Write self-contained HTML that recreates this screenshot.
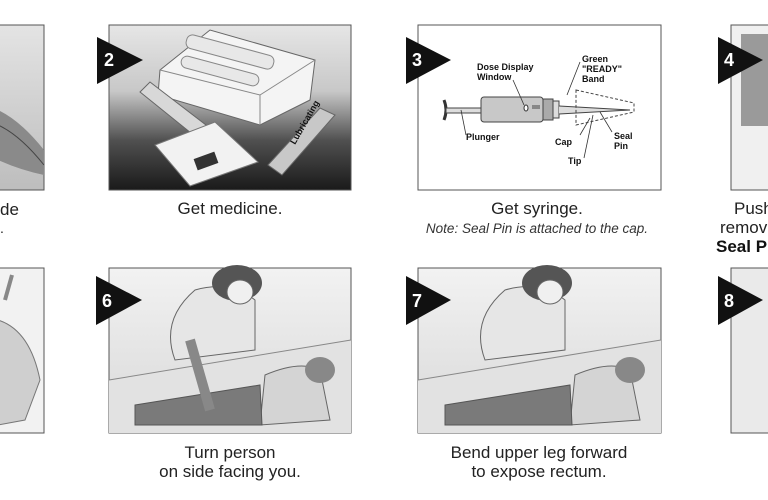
<!DOCTYPE html>
<html><head><meta charset="utf-8"><style>
html,body{margin:0;padding:0;background:#fff;width:768px;height:500px;overflow:hidden}
svg{display:block}
text{font-family:"Liberation Sans",sans-serif}
</style></head><body>
<svg width="768" height="500" viewBox="0 0 768 500" xmlns="http://www.w3.org/2000/svg">
<defs>
<linearGradient id="g2" x1="0" y1="0" x2="0" y2="1">
<stop offset="0" stop-color="#e6e6e6"/><stop offset="0.4" stop-color="#c8c8c8"/><stop offset="0.7" stop-color="#505050"/><stop offset="1" stop-color="#1a1a1a"/></linearGradient>
<linearGradient id="gl" x1="0" y1="0" x2="0" y2="1">
<stop offset="0" stop-color="#e4e4e4"/><stop offset="1" stop-color="#bdbdbd"/></linearGradient>
<linearGradient id="gr" x1="0" y1="0" x2="0" y2="1">
<stop offset="0" stop-color="#f2f2f2"/><stop offset="1" stop-color="#d8d8d8"/></linearGradient>
</defs>

<!-- Row 1 left partial -->
<rect x="-2" y="25" width="46" height="165" fill="url(#gl)" stroke="#555" stroke-width="1"/>
<path d="M-2 110 Q20 120 44 150 L44 175 Q20 170 -2 160Z" fill="#8a8a8a"/>
<path d="M-2 125 Q20 135 44 165" stroke="#444" fill="none"/>
<text x="0" y="215" font-size="17" fill="#222">de</text>
<text x="0" y="233" font-size="14" fill="#222">.</text>

<!-- Panel 2 -->
<rect x="109" y="25" width="242" height="165" fill="url(#g2)" stroke="#555"/>
<path d="M160 70 L210 30 L315 60 L310 100 L260 125 L158 95Z" fill="#f4f4f4" stroke="#666"/>
<path d="M160 70 L260 95 L315 60" stroke="#888" fill="none"/>
<path d="M260 95 L260 125" stroke="#888"/>
<rect x="185" y="45" width="90" height="14" rx="6" fill="#e8e8e8" stroke="#888" transform="rotate(15 230 52)"/>
<rect x="180" y="65" width="80" height="12" rx="6" fill="#e8e8e8" stroke="#888" transform="rotate(15 220 71)"/>
<path d="M140 92 L150 82 L232 145 L222 158Z" fill="#d8d8d8" stroke="#666"/>
<ellipse cx="227" cy="151" rx="8" ry="9" fill="#e0e0e0" stroke="#666"/>
<path d="M155 145 L215 122 L258 162 L190 186Z" fill="#f2f2f2" stroke="#777"/>
<rect x="195" y="155" width="22" height="12" fill="#333" transform="rotate(-20 206 161)"/>
<path d="M268 165 L320 108 L335 115 L282 175Z" fill="#c8c8c8" stroke="#666"/>
<text x="295" y="145" font-size="9" font-weight="bold" fill="#111" transform="rotate(-60 295 145)">Lubricating</text>
<path d="M97 37 L143 60 L97 84Z" fill="#111"/>
<text x="104" y="66" font-size="18" font-weight="bold" fill="#fff">2</text>
<text x="230" y="214" font-size="17" fill="#222" text-anchor="middle">Get medicine.</text>

<!-- Panel 3 -->
<rect x="418" y="25" width="243" height="165" fill="#fff" stroke="#555"/>
<path d="M406 37 L451 60 L406 84Z" fill="#111"/>
<text x="412" y="66" font-size="18" font-weight="bold" fill="#fff">3</text>
<path d="M444 100 Q448 110 444 120" stroke="#333" stroke-width="3" fill="none"/>
<rect x="446" y="108" width="35" height="5" fill="#ddd" stroke="#444"/>
<rect x="481" y="97" width="62" height="25" rx="3" fill="#c8c8c8" stroke="#444"/>
<rect x="543" y="99" width="10" height="21" fill="#aaa" stroke="#444"/>
<rect x="553" y="101" width="6" height="17" fill="#ddd" stroke="#444"/>
<path d="M559 106 L630 110 L559 114" fill="#ddd" stroke="#444"/>
<path d="M576 90 L634 103 L634 112 L576 125Z" fill="none" stroke="#444" stroke-dasharray="3 2"/>
<ellipse cx="526" cy="108" rx="2" ry="3" fill="#fff" stroke="#333"/>
<path d="M532 107 L540 107" stroke="#888" stroke-width="4"/>
<g font-size="9" font-weight="bold" fill="#111">
<text x="477" y="70">Dose Display</text><text x="477" y="80">Window</text>
<text x="582" y="62">Green</text><text x="582" y="72">"READY"</text><text x="582" y="82">Band</text>
<text x="466" y="140">Plunger</text>
<text x="555" y="145">Cap</text>
<text x="614" y="139">Seal</text><text x="614" y="149">Pin</text>
<text x="568" y="164">Tip</text>
</g>
<g stroke="#333" fill="none" stroke-width="0.8">
<path d="M513 80 L524 105"/><path d="M580 62 L567 95"/><path d="M461 110 L466 135"/>
<path d="M580 135 L590 118"/><path d="M612 132 L600 112"/><path d="M584 158 L593 115"/>
</g>
<text x="537" y="214" font-size="17" fill="#222" text-anchor="middle">Get syringe.</text>
<text x="537" y="233" font-size="13.5" font-style="italic" fill="#333" text-anchor="middle">Note: Seal Pin is attached to the cap.</text>

<!-- Panel 4 partial -->
<rect x="731" y="25" width="40" height="165" fill="#f0f0f0" stroke="#555"/>
<rect x="741" y="34" width="30" height="92" fill="#9a9a9a"/>
<path d="M718 37 L763 60 L718 84Z" fill="#111"/>
<text x="724" y="66" font-size="18" font-weight="bold" fill="#fff">4</text>
<text x="734" y="214" font-size="17" fill="#222">Push</text>
<text x="720" y="233" font-size="17" fill="#222">remov</text>
<text x="716" y="252" font-size="17" font-weight="bold" fill="#111">Seal P</text>

<!-- Row 2 left partial -->
<rect x="-2" y="268" width="46" height="165" fill="#f2f2f2" stroke="#555"/>
<path d="M-2 320 Q30 330 40 380 L25 420 L-2 425Z" fill="#cfcfcf" stroke="#777"/>
<path d="M5 300 L12 275" stroke="#888" stroke-width="4"/>

<!-- Panel 6 -->
<rect x="109" y="268" width="242" height="165" fill="url(#gr)" stroke="#555"/>
<path d="M109 380 L351 340 L351 433 L109 433Z" fill="#e2e2e2"/>
<path d="M109 380 L351 340" stroke="#888"/>
<path d="M195 290 Q230 280 255 300 L255 350 L175 360 Q160 320 195 290Z" fill="#e6e6e6" stroke="#666"/>
<ellipse cx="237" cy="283" rx="25" ry="18" fill="#555"/>
<ellipse cx="240" cy="292" rx="13" ry="12" fill="#f0f0f0" stroke="#666"/>
<path d="M265 375 Q300 360 320 370 L330 420 L260 425Z" fill="#d4d4d4" stroke="#666"/>
<ellipse cx="320" cy="370" rx="15" ry="13" fill="#888"/>
<path d="M135 405 L260 385 L262 425 L135 425Z" fill="#7a7a7a" stroke="#555"/>
<path d="M190 340 L210 410" stroke="#888" stroke-width="10"/>
<path d="M96 276 L142 300 L96 325Z" fill="#111"/>
<text x="102" y="307" font-size="18" font-weight="bold" fill="#fff">6</text>
<text x="230" y="458" font-size="17" fill="#222" text-anchor="middle">Turn person</text>
<text x="230" y="477" font-size="17" fill="#222" text-anchor="middle">on side facing you.</text>

<!-- Panel 7 -->
<rect x="418" y="268" width="243" height="165" fill="url(#gr)" stroke="#555"/>
<path d="M418 380 L661 340 L661 433 L418 433Z" fill="#e2e2e2"/>
<path d="M418 380 L661 340" stroke="#888"/>
<path d="M505 290 Q540 280 565 300 L565 350 L485 360 Q470 320 505 290Z" fill="#e6e6e6" stroke="#666"/>
<ellipse cx="547" cy="283" rx="25" ry="18" fill="#555"/>
<ellipse cx="550" cy="292" rx="13" ry="12" fill="#f0f0f0" stroke="#666"/>
<path d="M575 375 Q610 360 630 370 L640 420 L570 425Z" fill="#d4d4d4" stroke="#666"/>
<ellipse cx="630" cy="370" rx="15" ry="13" fill="#888"/>
<path d="M445 405 L570 385 L572 425 L445 425Z" fill="#7a7a7a" stroke="#555"/>
<path d="M406 276 L451 300 L406 325Z" fill="#111"/>
<text x="412" y="307" font-size="18" font-weight="bold" fill="#fff">7</text>
<text x="539" y="458" font-size="17" fill="#222" text-anchor="middle">Bend upper leg forward</text>
<text x="539" y="477" font-size="17" fill="#222" text-anchor="middle">to expose rectum.</text>

<!-- Panel 8 partial -->
<rect x="731" y="268" width="40" height="165" fill="#eaeaea" stroke="#555"/>
<path d="M718 276 L763 300 L718 325Z" fill="#111"/>
<text x="724" y="307" font-size="18" font-weight="bold" fill="#fff">8</text>
</svg>
</body></html>
